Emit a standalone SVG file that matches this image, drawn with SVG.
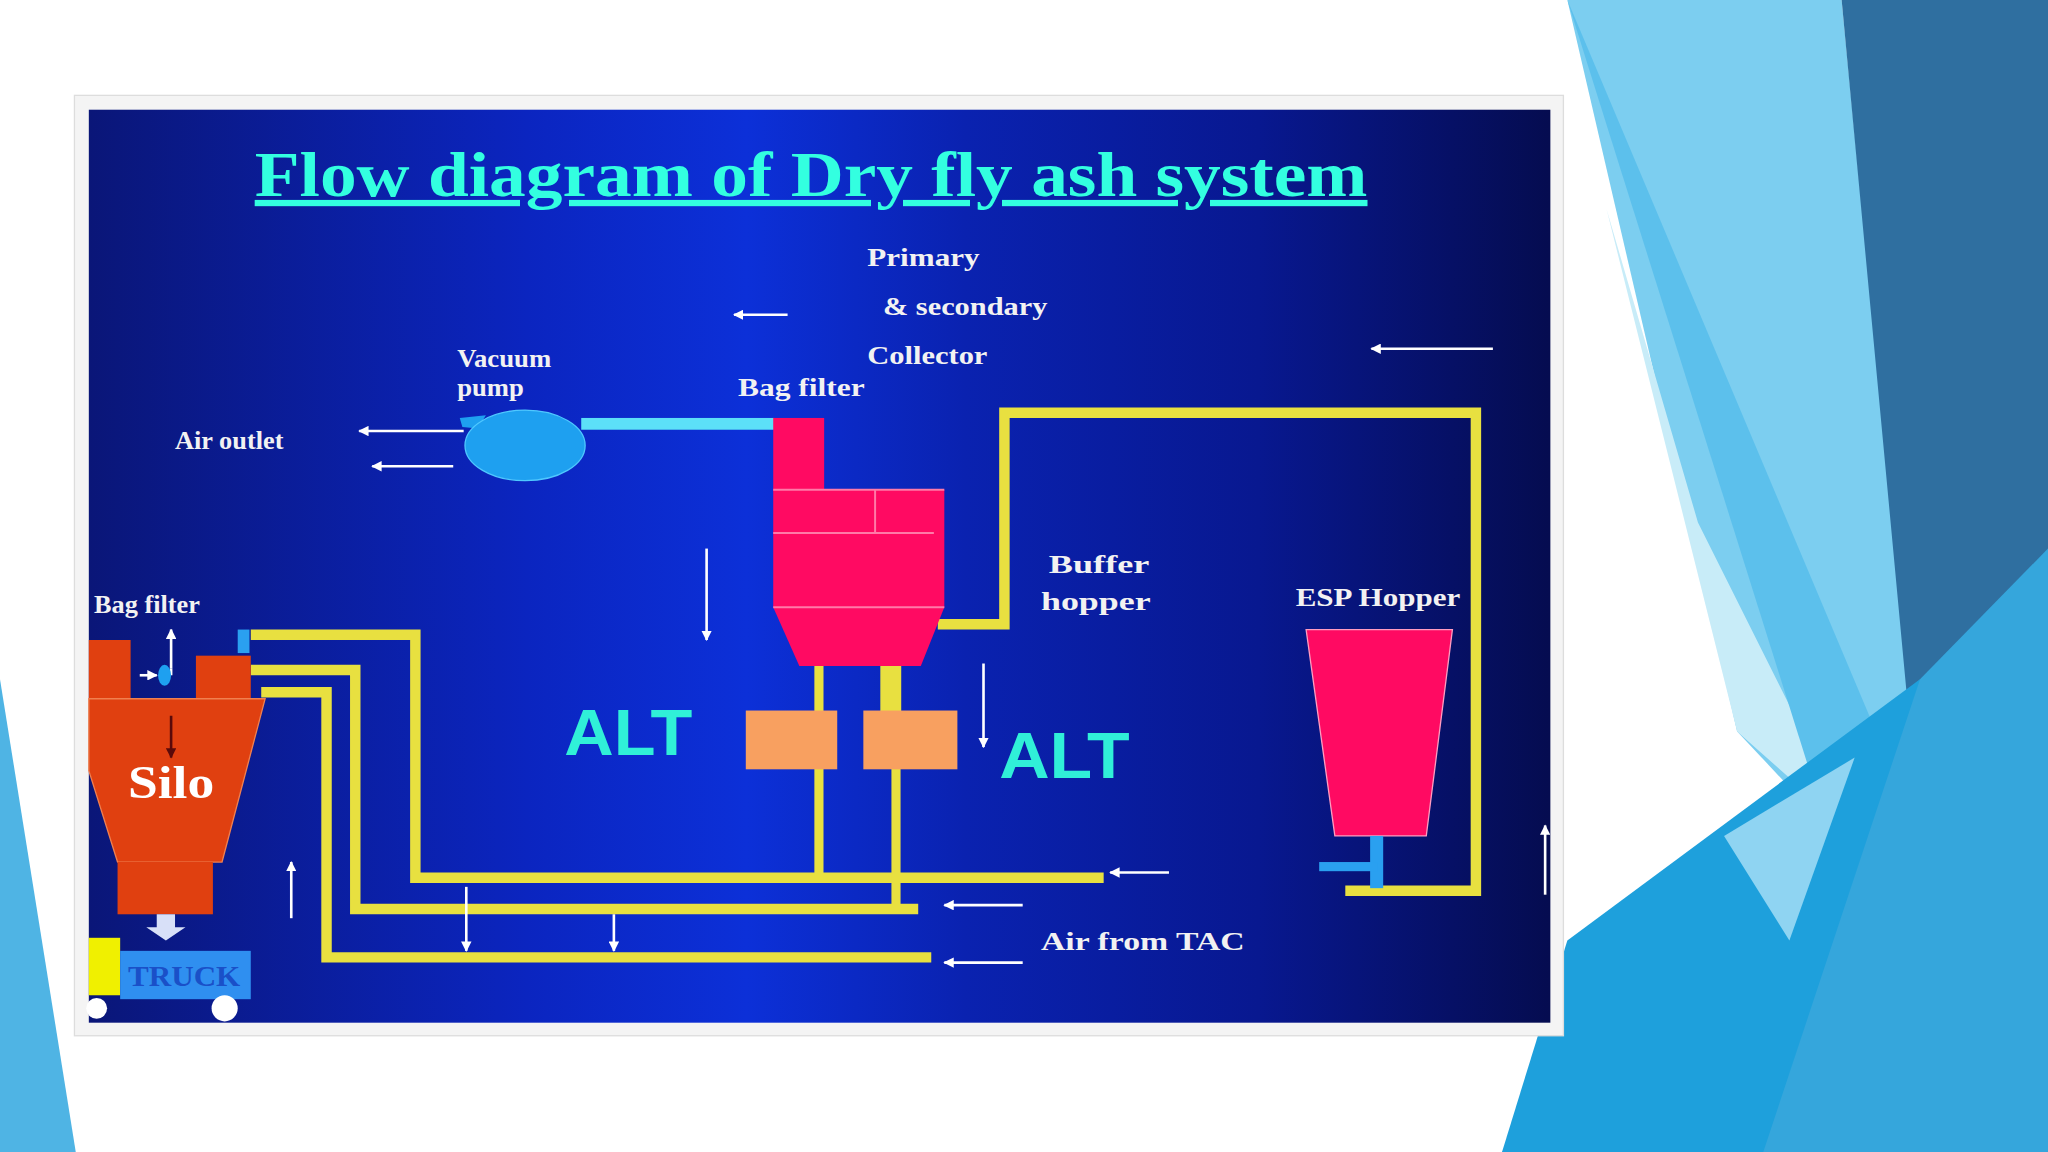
<svg xmlns="http://www.w3.org/2000/svg" width="2048" height="1152" viewBox="0 0 2048 1152" xml:space="preserve">
<defs>
<linearGradient id="bg" x1="0" y1="0" x2="1" y2="0">
<stop offset="0" stop-color="#0a1678"/><stop offset="0.3" stop-color="#0b25c0"/><stop offset="0.45" stop-color="#0c30d8"/><stop offset="0.6" stop-color="#0a22b0"/><stop offset="0.8" stop-color="#081890"/><stop offset="1" stop-color="#050c50"/>
</linearGradient>
<marker id="ah" viewBox="0 0 10 10" refX="9" refY="5" markerWidth="4" markerHeight="4" orient="auto"><path d="M0,0 L10,5 L0,10 z" fill="#fff"/></marker>
<marker id="ahd" viewBox="0 0 10 10" refX="9" refY="5" markerWidth="4" markerHeight="4" orient="auto"><path d="M0,0 L10,5 L0,10 z" fill="#5a0a0a"/></marker>
<style>
text{lengthAdjust:spacingAndGlyphs}
.lbl{font-family:"Liberation Serif",serif;font-weight:bold;font-size:19px;fill:#f2f2f2}
.alt{font-family:"Liberation Sans",sans-serif;font-weight:bold;font-size:50px;fill:#30f0d8}
.y{fill:none;stroke:#e8e040;stroke-width:8}
.ar{stroke:#fff;stroke-width:2;marker-end:url(#ah)}
.pk{fill:#ff0a62}
.or{fill:#e04010}
</style>
</defs>
<g transform="scale(1.30612)">
<rect width="1568" height="882" fill="#fff"/>
<g id="deco">
<polygon points="0,520 0,882 58,882" fill="#4fb4e4"/>
<polygon points="1200,0 1410,0 1480,720 1330,560" fill="#7ccef0"/>
<polygon points="1230,160 1330,560 1420,640 1300,400" fill="#c8ecf8"/>
<polygon points="1410,0 1568,0 1568,440 1470,640" fill="#2f6fa0"/>
<polygon points="1200,0 1470,640 1420,700" fill="#5cc0ec"/>
<polygon points="1470,520 1568,420 1568,882 1150,882" fill="#35a6dc"/>
<polygon points="1200,720 1470,520 1350,882 1150,882" fill="#1ea0dc"/>
<polygon points="1320,640 1420,580 1370,720" fill="#8fd4f2"/>
</g>
<rect x="57" y="73" width="1140" height="720" fill="#f4f4f4" stroke="#ddd"/>
<rect x="68" y="84" width="1119" height="699" fill="url(#bg)"/>
<text x="195" y="150" font-family="Liberation Serif,serif" font-weight="bold" font-size="48" fill="#33ffe0" text-decoration="underline" textLength="852" lengthAdjust="spacingAndGlyphs">Flow diagram of Dry  fly ash  system</text>
<g id="labels">
<text class="lbl" x="664" y="204" textLength="86" lengthAdjust="spacingAndGlyphs">Primary</text>
<text class="lbl" x="676" y="241" textLength="126" lengthAdjust="spacingAndGlyphs">&amp; secondary</text>
<text class="lbl" x="664" y="279" textLength="92" lengthAdjust="spacingAndGlyphs">Collector</text>
<text class="lbl" x="350" y="281" textLength="72" lengthAdjust="spacingAndGlyphs">Vacuum</text>
<text class="lbl" x="350" y="303" textLength="51" lengthAdjust="spacingAndGlyphs">pump</text>
<text class="lbl" x="565" y="303" textLength="97" lengthAdjust="spacingAndGlyphs">Bag  filter</text>
<text class="lbl" x="134" y="344" textLength="83" lengthAdjust="spacingAndGlyphs">Air outlet</text>
<text class="lbl" x="72" y="469" textLength="81" lengthAdjust="spacingAndGlyphs">Bag filter</text>
<text class="lbl" x="803" y="439" font-size="22" textLength="77" lengthAdjust="spacingAndGlyphs">Buffer</text>
<text class="lbl" x="797" y="467" font-size="22" textLength="84" lengthAdjust="spacingAndGlyphs">hopper</text>
<text class="lbl" x="992" y="464" font-size="20" textLength="126" lengthAdjust="spacingAndGlyphs">ESP Hopper</text>
<text class="lbl" x="797" y="727" font-size="20" textLength="156" lengthAdjust="spacingAndGlyphs">Air from   TAC</text>
<text class="alt" x="432" y="578" textLength="98" lengthAdjust="spacingAndGlyphs">ALT</text>
<text class="alt" x="765" y="596" textLength="100" lengthAdjust="spacingAndGlyphs">ALT</text>
</g>
<g id="connectors">
<polyline class="y" points="718,478 769,478 769,316 1130,316 1130,682 1030,682"/>
<polyline class="y" points="192,486 318,486 318,672 845,672"/>
<polyline class="y" points="192,513 272,513 272,696 703,696"/>
<polyline class="y" points="200,530 250,530 250,733 713,733"/>
<line x1="627" y1="508" x2="627" y2="672" stroke="#e8e040" stroke-width="7"/>
<line x1="682" y1="508" x2="682" y2="546" stroke="#e8e040" stroke-width="16"/>
<line x1="686" y1="546" x2="686" y2="696" stroke="#e8e040" stroke-width="7"/>
<rect x="445" y="320" width="148" height="9" fill="#5ce0f8"/>
<rect x="182" y="482" width="9" height="18" fill="#2aa0f0"/>
<line class="ar" x1="603" y1="241" x2="562" y2="241"/>
<line class="ar" x1="1143" y1="267" x2="1050" y2="267"/>
<line class="ar" x1="355" y1="330" x2="275" y2="330"/>
<line class="ar" x1="347" y1="357" x2="285" y2="357"/>
<line class="ar" x1="541" y1="420" x2="541" y2="490"/>
<line class="ar" x1="753" y1="508" x2="753" y2="572"/>
<line class="ar" x1="895" y1="668" x2="850" y2="668"/>
<line class="ar" x1="783" y1="693" x2="723" y2="693"/>
<line class="ar" x1="783" y1="737" x2="723" y2="737"/>
<line class="ar" x1="357" y1="679" x2="357" y2="728"/>
<line class="ar" x1="470" y1="700" x2="470" y2="728"/>
<line class="ar" x1="223" y1="703" x2="223" y2="660"/>
<line class="ar" x1="1183" y1="685" x2="1183" y2="632"/>
<line class="ar" x1="131" y1="512" x2="131" y2="482"/>
<line class="ar" x1="107" y1="517" x2="120" y2="517"/>
<line x1="131" y1="517" x2="131" y2="512" stroke="#fff" stroke-width="2"/>
</g>
<g id="vacuum-pump">
<polygon points="352,320 372,318 366,328 354,327" fill="#1ea0f0"/>
<ellipse cx="402" cy="341" rx="46" ry="27" fill="#1ea0f0" stroke="#4fc8ff"/>
</g>
<g id="bag-filter">
<rect class="pk" x="592" y="320" width="39" height="56"/>
<rect class="pk" x="592" y="375" width="131" height="90"/>
<polygon class="pk" points="592,465 723,465 705,510 612,510"/>
<path d="M592,375 H723 M592,408 H715 M670,375 V408 M592,465 H723" stroke="#ff7aa8" stroke-width="1.5" fill="none"/>
</g>
<g id="alt1"><rect x="571" y="544" width="70" height="45" fill="#f8a060"/></g>
<g id="alt2"><rect x="661" y="544" width="72" height="45" fill="#f8a060"/></g>
<g id="esp-hopper">
<polygon class="pk" points="1000,482 1112,482 1092,640 1022,640" stroke="#ff9cc0"/>
<rect x="1049" y="640" width="10" height="40" fill="#2aa0f0"/>
<rect x="1010" y="660" width="45" height="7" fill="#2aa0f0"/>
</g>
<g id="silo">
<rect class="or" x="68" y="490" width="32" height="45"/>
<rect class="or" x="150" y="502" width="42" height="33"/>
<polygon class="or" points="68,535 203,535 170,660 90,660 68,590" stroke="#f08050"/>
<rect class="or" x="90" y="660" width="73" height="40"/>
<ellipse cx="126" cy="517" rx="5" ry="8" fill="#1ea0f0"/>
<line x1="131" y1="548" x2="131" y2="580" stroke="#5a0a0a" stroke-width="2" marker-end="url(#ahd)"/>
<text x="98" y="611" font-family="Liberation Serif,serif" font-weight="bold" font-size="36" fill="#fff" textLength="66" lengthAdjust="spacingAndGlyphs">Silo</text>
<polygon points="120,700 134,700 134,710 142,710 127,720 112,710 120,710" fill="#d8e0f8"/>
</g>
<g id="truck">
<rect x="68" y="718" width="24" height="44" fill="#f0f000"/>
<rect x="92" y="728" width="100" height="37" fill="#2f8ff0"/>
<text x="98" y="755" font-family="Liberation Serif,serif" font-weight="bold" font-size="22" fill="#1a50c8" textLength="86" lengthAdjust="spacingAndGlyphs">TRUCK</text>
<circle cx="74" cy="772" r="8" fill="#fff"/>
<circle cx="172" cy="772" r="10" fill="#fff"/>
</g>
</g>
</svg>
